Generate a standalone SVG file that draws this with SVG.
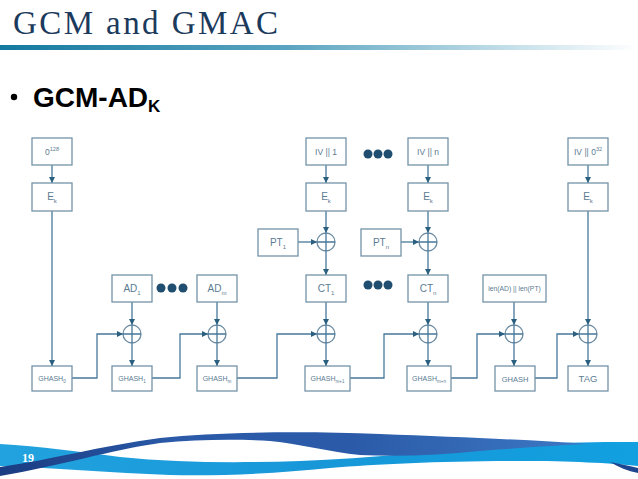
<svg xmlns="http://www.w3.org/2000/svg" width="638" height="479" viewBox="0 0 638 479">
<defs>
<linearGradient id="tl" x1="0" y1="0" x2="1" y2="0">
<stop offset="0" stop-color="#1479a0"/>
<stop offset="0.45" stop-color="#5aa4c0"/>
<stop offset="0.8" stop-color="#c4dfe9"/>
<stop offset="1" stop-color="#ffffff"/>
</linearGradient>
<linearGradient id="lb" x1="0" y1="0" x2="1" y2="0">
<stop offset="0" stop-color="#22a3df"/>
<stop offset="0.5" stop-color="#1797d8"/>
<stop offset="1" stop-color="#12a0e0"/>
</linearGradient>
<linearGradient id="db" x1="0" y1="0" x2="1" y2="0">
<stop offset="0" stop-color="#1a3c82"/>
<stop offset="0.3" stop-color="#2a5aa8"/>
<stop offset="0.6" stop-color="#2b5ba8"/>
<stop offset="1" stop-color="#3d78c4"/>
</linearGradient>
<marker id="ah" viewBox="0 0 10 10" refX="10" refY="5" markerWidth="6" markerHeight="6" markerUnits="userSpaceOnUse" orient="auto">
<path d="M0,0 L10,5 L0,10 Z" fill="#2b5f80"/>
</marker>
<style>
.bx{fill:#ffffff;stroke:#7393a8;stroke-width:1.3}
.ln{fill:none;stroke:#46789a;stroke-width:1.3}
.ar{fill:none;stroke:#46789a;stroke-width:1.3;marker-end:url(#ah)}
.xr{fill:#ffffff;stroke:#6b8ca3;stroke-width:1.3}
.t{font-family:"Liberation Sans",Arial,sans-serif;fill:#5b7b91;text-anchor:middle}
.dot{fill:#1f4e70}
</style>
</defs>
<rect width="638" height="479" fill="#ffffff"/>
<text x="13" y="34" font-family="Liberation Serif,Times New Roman,serif" font-size="33" fill="#1b3a5c" textLength="265" lengthAdjust="spacing">GCM and GMAC</text>
<rect x="0" y="45" width="638" height="5" fill="url(#tl)"/>
<circle cx="14" cy="97" r="3.2" fill="#000"/>
<text x="33" y="107" font-family="Liberation Sans,Arial,sans-serif" font-size="28" font-weight="bold" fill="#000">GCM-AD<tspan font-size="17" dy="5">K</tspan></text>

<g id="connectors">
<line class="ar" x1="52" y1="165" x2="52" y2="183"/>
<line class="ar" x1="52" y1="211" x2="52" y2="366"/>
<line class="ar" x1="326" y1="165" x2="326" y2="183"/>
<line class="ar" x1="326" y1="211" x2="326" y2="233"/>
<line class="ar" x1="326" y1="251" x2="326" y2="275"/>
<line class="ar" x1="326" y1="302" x2="326" y2="325"/>
<line class="ar" x1="326" y1="343" x2="326" y2="366"/>
<line class="ar" x1="298" y1="242" x2="317" y2="242"/>
<line class="ar" x1="428" y1="165" x2="428" y2="183"/>
<line class="ar" x1="428" y1="211" x2="428" y2="233"/>
<line class="ar" x1="428" y1="251" x2="428" y2="275"/>
<line class="ar" x1="428" y1="302" x2="428" y2="325"/>
<line class="ar" x1="428" y1="343" x2="428" y2="366"/>
<line class="ar" x1="401" y1="242" x2="419" y2="242"/>
<line class="ar" x1="588" y1="165" x2="588" y2="183"/>
<line class="ar" x1="588" y1="211" x2="588" y2="325"/>
<line class="ar" x1="588" y1="343" x2="588" y2="366"/>
<line class="ar" x1="132" y1="302" x2="132" y2="325"/>
<line class="ar" x1="132" y1="343" x2="132" y2="366"/>
<line class="ar" x1="217" y1="302" x2="217" y2="325"/>
<line class="ar" x1="217" y1="343" x2="217" y2="366"/>
<line class="ar" x1="514" y1="302" x2="514" y2="325"/>
<line class="ar" x1="514" y1="343" x2="514" y2="366"/>
<polyline class="ar" points="72,378 97,378 97,334 123,334"/>
<polyline class="ar" points="152,378 180,378 180,334 208,334"/>
<polyline class="ar" points="237,378 277,378 277,334 317,334"/>
<polyline class="ar" points="350,378 384,378 384,334 419,334"/>
<polyline class="ar" points="451,378 477,378 477,334 505,334"/>
<polyline class="ar" points="535,378 557,378 557,334 579,334"/>
</g>

<g id="n-zero"><rect class="bx" x="32" y="138" width="40" height="27"/><text class="t" x="52" y="155" font-size="8.5">0<tspan font-size="5.5" dy="-4">128</tspan></text></g>
<g id="n-ek0"><rect class="bx" x="32" y="183" width="40" height="28"/><text class="t" x="52" y="200" font-size="10">E<tspan font-size="6" dy="3">k</tspan></text></g>
<g id="n-iv1"><rect class="bx" x="306" y="138" width="40" height="27"/><text class="t" x="326" y="155" font-size="8.5">IV || 1</text></g>
<g id="n-ek1"><rect class="bx" x="306" y="183" width="40" height="28"/><text class="t" x="326" y="200" font-size="10">E<tspan font-size="6" dy="3">k</tspan></text></g>
<g id="n-ivn"><rect class="bx" x="408" y="138" width="40" height="27"/><text class="t" x="428" y="155" font-size="8.5">IV || n</text></g>
<g id="n-ekn"><rect class="bx" x="408" y="183" width="40" height="28"/><text class="t" x="428" y="200" font-size="10">E<tspan font-size="6" dy="3">k</tspan></text></g>
<g id="n-iv32"><rect class="bx" x="568" y="138" width="40" height="27"/><text class="t" x="588" y="155" font-size="8.5">IV || 0<tspan font-size="5.5" dy="-4">32</tspan></text></g>
<g id="n-ek32"><rect class="bx" x="568" y="183" width="40" height="28"/><text class="t" x="588" y="200" font-size="10">E<tspan font-size="6" dy="3">k</tspan></text></g>
<g id="n-pt1"><rect class="bx" x="258" y="229" width="40" height="27"/><text class="t" x="278" y="246" font-size="10">PT<tspan font-size="6" dy="3">1</tspan></text></g>
<g id="n-ptn"><rect class="bx" x="361" y="229" width="40" height="27"/><text class="t" x="381" y="246" font-size="10">PT<tspan font-size="6" dy="3">n</tspan></text></g>
<g id="n-x1"><circle class="xr" cx="326" cy="242" r="9"/><path class="ln" d="M317,242 H335 M326,233 V251"/></g>
<g id="n-xn"><circle class="xr" cx="428" cy="242" r="9"/><path class="ln" d="M419,242 H437 M428,233 V251"/></g>
<g id="n-ad1"><rect class="bx" x="112" y="275" width="40" height="27"/><text class="t" x="132" y="292" font-size="10">AD<tspan font-size="6" dy="3">1</tspan></text></g>
<g id="n-adm"><rect class="bx" x="197" y="275" width="40" height="27"/><text class="t" x="217" y="292" font-size="10">AD<tspan font-size="6" dy="3">m</tspan></text></g>
<g id="n-ct1"><rect class="bx" x="306" y="275" width="40" height="27"/><text class="t" x="326" y="292" font-size="10">CT<tspan font-size="6" dy="3">1</tspan></text></g>
<g id="n-ctn"><rect class="bx" x="408" y="275" width="40" height="27"/><text class="t" x="428" y="292" font-size="10">CT<tspan font-size="6" dy="3">n</tspan></text></g>
<g id="n-len"><rect class="bx" x="483" y="275" width="63" height="27"/><text class="t" x="514.5" y="291" font-size="6.8">len(AD) || len(PT)</text></g>
<g id="n-xa1"><circle class="xr" cx="132" cy="334" r="9"/><path class="ln" d="M123,334 H141 M132,325 V343"/></g>
<g id="n-xam"><circle class="xr" cx="217" cy="334" r="9"/><path class="ln" d="M208,334 H226 M217,325 V343"/></g>
<g id="n-xc1"><circle class="xr" cx="326" cy="334" r="9"/><path class="ln" d="M317,334 H335 M326,325 V343"/></g>
<g id="n-xcn"><circle class="xr" cx="428" cy="334" r="9"/><path class="ln" d="M419,334 H437 M428,325 V343"/></g>
<g id="n-xl"><circle class="xr" cx="514" cy="334" r="9"/><path class="ln" d="M505,334 H523 M514,325 V343"/></g>
<g id="n-xt"><circle class="xr" cx="588" cy="334" r="9"/><path class="ln" d="M579,334 H597 M588,325 V343"/></g>
<g id="n-g0"><rect class="bx" x="32" y="366" width="40" height="25"/><text class="t" x="52" y="381" font-size="7">GHASH<tspan font-size="4.5" dy="2">0</tspan></text></g>
<g id="n-g1"><rect class="bx" x="112" y="366" width="40" height="25"/><text class="t" x="132" y="381" font-size="7">GHASH<tspan font-size="4.5" dy="2">1</tspan></text></g>
<g id="n-gm"><rect class="bx" x="197" y="366" width="40" height="25"/><text class="t" x="217" y="381" font-size="7">GHASH<tspan font-size="4.5" dy="2">m</tspan></text></g>
<g id="n-gm1"><rect class="bx" x="305" y="366" width="45" height="25"/><text class="t" x="327.5" y="381" font-size="7">GHASH<tspan font-size="4.5" dy="2">m+1</tspan></text></g>
<g id="n-gmn"><rect class="bx" x="407" y="366" width="44" height="25"/><text class="t" x="429" y="381" font-size="7">GHASH<tspan font-size="4.5" dy="2">m+n</tspan></text></g>
<g id="n-gh"><rect class="bx" x="495" y="366" width="40" height="25"/><text class="t" x="515" y="381.5" font-size="7.5">GHASH</text></g>
<g id="n-tag"><rect class="bx" x="568" y="366" width="40" height="25"/><text class="t" x="588" y="382" font-size="9.5">TAG</text></g>

<g id="dots">
<circle class="dot" cx="368" cy="154" r="4.5"/><circle class="dot" cx="378" cy="154" r="4.5"/><circle class="dot" cx="388" cy="154" r="4.5"/>
<circle class="dot" cx="161" cy="288" r="4.5"/><circle class="dot" cx="172" cy="288" r="4.5"/><circle class="dot" cx="183" cy="288" r="4.5"/>
<circle class="dot" cx="368" cy="285" r="4.5"/><circle class="dot" cx="378" cy="285" r="4.5"/><circle class="dot" cx="388" cy="285" r="4.5"/>
</g>

<g id="footer">
<path d="M0,444 C40,446 80,452 120,457 C180,463 240,463 300,461 C380,458 460,448 540,444 C580,442 610,442 638,442 L638,466 C610,463 570,461 520,461 C440,461 380,464 330,468 C280,473 230,476 170,475 C110,473 60,468 0,466 Z" fill="url(#lb)"/>
<path d="M610,462 C620,464 630,466 638,468 L638,473 C628,471 618,467 610,462 Z" fill="#1d4590"/>
<path d="M0,467 C50,460 100,446 160,438 C220,432 300,431 380,434 C460,437 530,440 590,444 C560,445 520,448 480,451 C440,455 400,457 360,455 C330,452 300,444 270,441 C240,439 200,439 160,443 C110,450 60,466 0,476 Z" fill="url(#db)"/>
<text x="22" y="462" font-family="Liberation Serif,Times New Roman,serif" font-size="12" font-weight="bold" fill="#ffffff">19</text>
</g>
</svg>
